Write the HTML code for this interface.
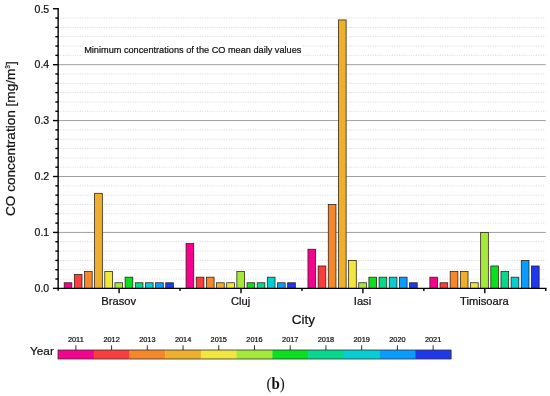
<!DOCTYPE html><html><head><meta charset="utf-8"><title>CO concentration</title>
<style>html,body{margin:0;padding:0;background:#fff}svg{display:block}text{font-family:"Liberation Sans",sans-serif;fill:#111;stroke:#111;stroke-width:0.22px}</style></head><body>
<svg width="550" height="396" viewBox="0 0 550 396">
<rect width="550" height="396" fill="#fff"/>
<line x1="58.15" x2="545.75" y1="279.03" y2="279.03" stroke="#dcdcdc" stroke-width="1" stroke-dasharray="1.2 1.2"/>
<line x1="58.15" x2="545.75" y1="269.71" y2="269.71" stroke="#dcdcdc" stroke-width="1" stroke-dasharray="1.2 1.2"/>
<line x1="58.15" x2="545.75" y1="260.39" y2="260.39" stroke="#dcdcdc" stroke-width="1" stroke-dasharray="1.2 1.2"/>
<line x1="58.15" x2="545.75" y1="251.07" y2="251.07" stroke="#dcdcdc" stroke-width="1" stroke-dasharray="1.2 1.2"/>
<line x1="58.15" x2="545.75" y1="241.75" y2="241.75" stroke="#dcdcdc" stroke-width="1" stroke-dasharray="1.2 1.2"/>
<line x1="58.15" x2="545.75" y1="232.43" y2="232.43" stroke="#949494" stroke-width="0.9"/>
<line x1="58.15" x2="545.75" y1="223.11" y2="223.11" stroke="#dcdcdc" stroke-width="1" stroke-dasharray="1.2 1.2"/>
<line x1="58.15" x2="545.75" y1="213.79" y2="213.79" stroke="#dcdcdc" stroke-width="1" stroke-dasharray="1.2 1.2"/>
<line x1="58.15" x2="545.75" y1="204.47" y2="204.47" stroke="#dcdcdc" stroke-width="1" stroke-dasharray="1.2 1.2"/>
<line x1="58.15" x2="545.75" y1="195.15" y2="195.15" stroke="#dcdcdc" stroke-width="1" stroke-dasharray="1.2 1.2"/>
<line x1="58.15" x2="545.75" y1="185.83" y2="185.83" stroke="#dcdcdc" stroke-width="1" stroke-dasharray="1.2 1.2"/>
<line x1="58.15" x2="545.75" y1="176.51" y2="176.51" stroke="#949494" stroke-width="0.9"/>
<line x1="58.15" x2="545.75" y1="167.19" y2="167.19" stroke="#dcdcdc" stroke-width="1" stroke-dasharray="1.2 1.2"/>
<line x1="58.15" x2="545.75" y1="157.87" y2="157.87" stroke="#dcdcdc" stroke-width="1" stroke-dasharray="1.2 1.2"/>
<line x1="58.15" x2="545.75" y1="148.55" y2="148.55" stroke="#dcdcdc" stroke-width="1" stroke-dasharray="1.2 1.2"/>
<line x1="58.15" x2="545.75" y1="139.23" y2="139.23" stroke="#dcdcdc" stroke-width="1" stroke-dasharray="1.2 1.2"/>
<line x1="58.15" x2="545.75" y1="129.91" y2="129.91" stroke="#dcdcdc" stroke-width="1" stroke-dasharray="1.2 1.2"/>
<line x1="58.15" x2="545.75" y1="120.59" y2="120.59" stroke="#949494" stroke-width="0.9"/>
<line x1="58.15" x2="545.75" y1="111.27" y2="111.27" stroke="#dcdcdc" stroke-width="1" stroke-dasharray="1.2 1.2"/>
<line x1="58.15" x2="545.75" y1="101.95" y2="101.95" stroke="#dcdcdc" stroke-width="1" stroke-dasharray="1.2 1.2"/>
<line x1="58.15" x2="545.75" y1="92.63" y2="92.63" stroke="#dcdcdc" stroke-width="1" stroke-dasharray="1.2 1.2"/>
<line x1="58.15" x2="545.75" y1="83.31" y2="83.31" stroke="#dcdcdc" stroke-width="1" stroke-dasharray="1.2 1.2"/>
<line x1="58.15" x2="545.75" y1="73.99" y2="73.99" stroke="#dcdcdc" stroke-width="1" stroke-dasharray="1.2 1.2"/>
<line x1="58.15" x2="545.75" y1="64.67" y2="64.67" stroke="#949494" stroke-width="0.9"/>
<line x1="58.15" x2="545.75" y1="55.35" y2="55.35" stroke="#dcdcdc" stroke-width="1" stroke-dasharray="1.2 1.2"/>
<line x1="58.15" x2="545.75" y1="46.03" y2="46.03" stroke="#dcdcdc" stroke-width="1" stroke-dasharray="1.2 1.2"/>
<line x1="58.15" x2="545.75" y1="36.71" y2="36.71" stroke="#dcdcdc" stroke-width="1" stroke-dasharray="1.2 1.2"/>
<line x1="58.15" x2="545.75" y1="27.39" y2="27.39" stroke="#dcdcdc" stroke-width="1" stroke-dasharray="1.2 1.2"/>
<line x1="58.15" x2="545.75" y1="18.07" y2="18.07" stroke="#dcdcdc" stroke-width="1" stroke-dasharray="1.2 1.2"/>
<rect x="83.5" y="40" width="219.5" height="19" fill="#fff"/>
<rect x="64.16" y="282.76" width="7.7" height="5.59" fill="#f4048e" stroke="#2b1d0e" stroke-width="0.75"/>
<rect x="74.32" y="274.37" width="7.7" height="13.98" fill="#fa3e3e" stroke="#2b1d0e" stroke-width="0.75"/>
<rect x="84.48" y="271.57" width="7.7" height="16.78" fill="#f5882a" stroke="#2b1d0e" stroke-width="0.75"/>
<rect x="94.63" y="193.29" width="7.7" height="95.06" fill="#eeb02c" stroke="#2b1d0e" stroke-width="0.75"/>
<rect x="104.79" y="271.57" width="7.7" height="16.78" fill="#f0e63e" stroke="#2b1d0e" stroke-width="0.75"/>
<rect x="114.95" y="282.76" width="7.7" height="5.59" fill="#a4e83a" stroke="#2b1d0e" stroke-width="0.75"/>
<rect x="125.11" y="277.17" width="7.7" height="11.18" fill="#08e020" stroke="#2b1d0e" stroke-width="0.75"/>
<rect x="135.27" y="282.76" width="7.7" height="5.59" fill="#06d88e" stroke="#2b1d0e" stroke-width="0.75"/>
<rect x="145.42" y="282.76" width="7.7" height="5.59" fill="#06ced2" stroke="#2b1d0e" stroke-width="0.75"/>
<rect x="155.58" y="282.76" width="7.7" height="5.59" fill="#0a9cfc" stroke="#2b1d0e" stroke-width="0.75"/>
<rect x="165.74" y="282.76" width="7.7" height="5.59" fill="#2038ec" stroke="#2b1d0e" stroke-width="0.75"/>
<rect x="186.06" y="243.61" width="7.7" height="44.74" fill="#f4048e" stroke="#2b1d0e" stroke-width="0.75"/>
<rect x="196.22" y="277.17" width="7.7" height="11.18" fill="#fa3e3e" stroke="#2b1d0e" stroke-width="0.75"/>
<rect x="206.38" y="277.17" width="7.7" height="11.18" fill="#f5882a" stroke="#2b1d0e" stroke-width="0.75"/>
<rect x="216.53" y="282.76" width="7.7" height="5.59" fill="#eeb02c" stroke="#2b1d0e" stroke-width="0.75"/>
<rect x="226.69" y="282.76" width="7.7" height="5.59" fill="#f0e63e" stroke="#2b1d0e" stroke-width="0.75"/>
<rect x="236.85" y="271.57" width="7.7" height="16.78" fill="#a4e83a" stroke="#2b1d0e" stroke-width="0.75"/>
<rect x="247.01" y="282.76" width="7.7" height="5.59" fill="#08e020" stroke="#2b1d0e" stroke-width="0.75"/>
<rect x="257.17" y="282.76" width="7.7" height="5.59" fill="#06d88e" stroke="#2b1d0e" stroke-width="0.75"/>
<rect x="267.32" y="277.17" width="7.7" height="11.18" fill="#06ced2" stroke="#2b1d0e" stroke-width="0.75"/>
<rect x="277.48" y="282.76" width="7.7" height="5.59" fill="#0a9cfc" stroke="#2b1d0e" stroke-width="0.75"/>
<rect x="287.64" y="282.76" width="7.7" height="5.59" fill="#2038ec" stroke="#2b1d0e" stroke-width="0.75"/>
<rect x="307.96" y="249.21" width="7.7" height="39.14" fill="#f4048e" stroke="#2b1d0e" stroke-width="0.75"/>
<rect x="318.12" y="265.98" width="7.7" height="22.37" fill="#fa3e3e" stroke="#2b1d0e" stroke-width="0.75"/>
<rect x="328.27" y="204.47" width="7.7" height="83.88" fill="#f5882a" stroke="#2b1d0e" stroke-width="0.75"/>
<rect x="338.43" y="19.93" width="7.7" height="268.42" fill="#eeb02c" stroke="#2b1d0e" stroke-width="0.75"/>
<rect x="348.59" y="260.39" width="7.7" height="27.96" fill="#f0e63e" stroke="#2b1d0e" stroke-width="0.75"/>
<rect x="358.75" y="282.76" width="7.7" height="5.59" fill="#a4e83a" stroke="#2b1d0e" stroke-width="0.75"/>
<rect x="368.91" y="277.17" width="7.7" height="11.18" fill="#08e020" stroke="#2b1d0e" stroke-width="0.75"/>
<rect x="379.07" y="277.17" width="7.7" height="11.18" fill="#06d88e" stroke="#2b1d0e" stroke-width="0.75"/>
<rect x="389.22" y="277.17" width="7.7" height="11.18" fill="#06ced2" stroke="#2b1d0e" stroke-width="0.75"/>
<rect x="399.38" y="277.17" width="7.7" height="11.18" fill="#0a9cfc" stroke="#2b1d0e" stroke-width="0.75"/>
<rect x="409.54" y="282.76" width="7.7" height="5.59" fill="#2038ec" stroke="#2b1d0e" stroke-width="0.75"/>
<rect x="429.86" y="277.17" width="7.7" height="11.18" fill="#f4048e" stroke="#2b1d0e" stroke-width="0.75"/>
<rect x="440.02" y="282.76" width="7.7" height="5.59" fill="#fa3e3e" stroke="#2b1d0e" stroke-width="0.75"/>
<rect x="450.17" y="271.57" width="7.7" height="16.78" fill="#f5882a" stroke="#2b1d0e" stroke-width="0.75"/>
<rect x="460.33" y="271.57" width="7.7" height="16.78" fill="#eeb02c" stroke="#2b1d0e" stroke-width="0.75"/>
<rect x="470.49" y="282.76" width="7.7" height="5.59" fill="#f0e63e" stroke="#2b1d0e" stroke-width="0.75"/>
<rect x="480.65" y="232.43" width="7.7" height="55.92" fill="#a4e83a" stroke="#2b1d0e" stroke-width="0.75"/>
<rect x="490.81" y="265.98" width="7.7" height="22.37" fill="#08e020" stroke="#2b1d0e" stroke-width="0.75"/>
<rect x="500.97" y="271.57" width="7.7" height="16.78" fill="#06d88e" stroke="#2b1d0e" stroke-width="0.75"/>
<rect x="511.12" y="277.17" width="7.7" height="11.18" fill="#06ced2" stroke="#2b1d0e" stroke-width="0.75"/>
<rect x="521.28" y="260.39" width="7.7" height="27.96" fill="#0a9cfc" stroke="#2b1d0e" stroke-width="0.75"/>
<rect x="531.44" y="265.98" width="7.7" height="22.37" fill="#2038ec" stroke="#2b1d0e" stroke-width="0.75"/>
<line x1="58.15" x2="58.15" y1="8.05" y2="289.05" stroke="#000" stroke-width="1.4"/>
<line x1="57.449999999999996" x2="546.45" y1="288.35" y2="288.35" stroke="#000" stroke-width="1.4"/>
<line x1="52.949999999999996" x2="58.15" y1="288.35" y2="288.35" stroke="#000" stroke-width="1.4"/>
<text x="49.2" y="292.15" font-size="10.5" text-anchor="end">0.0</text>
<line x1="55.35" x2="58.15" y1="279.03" y2="279.03" stroke="#000" stroke-width="1.4"/>
<line x1="55.35" x2="58.15" y1="269.71" y2="269.71" stroke="#000" stroke-width="1.4"/>
<line x1="55.35" x2="58.15" y1="260.39" y2="260.39" stroke="#000" stroke-width="1.4"/>
<line x1="55.35" x2="58.15" y1="251.07" y2="251.07" stroke="#000" stroke-width="1.4"/>
<line x1="55.35" x2="58.15" y1="241.75" y2="241.75" stroke="#000" stroke-width="1.4"/>
<line x1="52.949999999999996" x2="58.15" y1="232.43" y2="232.43" stroke="#000" stroke-width="1.4"/>
<text x="49.2" y="236.23" font-size="10.5" text-anchor="end">0.1</text>
<line x1="55.35" x2="58.15" y1="223.11" y2="223.11" stroke="#000" stroke-width="1.4"/>
<line x1="55.35" x2="58.15" y1="213.79" y2="213.79" stroke="#000" stroke-width="1.4"/>
<line x1="55.35" x2="58.15" y1="204.47" y2="204.47" stroke="#000" stroke-width="1.4"/>
<line x1="55.35" x2="58.15" y1="195.15" y2="195.15" stroke="#000" stroke-width="1.4"/>
<line x1="55.35" x2="58.15" y1="185.83" y2="185.83" stroke="#000" stroke-width="1.4"/>
<line x1="52.949999999999996" x2="58.15" y1="176.51" y2="176.51" stroke="#000" stroke-width="1.4"/>
<text x="49.2" y="180.31" font-size="10.5" text-anchor="end">0.2</text>
<line x1="55.35" x2="58.15" y1="167.19" y2="167.19" stroke="#000" stroke-width="1.4"/>
<line x1="55.35" x2="58.15" y1="157.87" y2="157.87" stroke="#000" stroke-width="1.4"/>
<line x1="55.35" x2="58.15" y1="148.55" y2="148.55" stroke="#000" stroke-width="1.4"/>
<line x1="55.35" x2="58.15" y1="139.23" y2="139.23" stroke="#000" stroke-width="1.4"/>
<line x1="55.35" x2="58.15" y1="129.91" y2="129.91" stroke="#000" stroke-width="1.4"/>
<line x1="52.949999999999996" x2="58.15" y1="120.59" y2="120.59" stroke="#000" stroke-width="1.4"/>
<text x="49.2" y="124.39" font-size="10.5" text-anchor="end">0.3</text>
<line x1="55.35" x2="58.15" y1="111.27" y2="111.27" stroke="#000" stroke-width="1.4"/>
<line x1="55.35" x2="58.15" y1="101.95" y2="101.95" stroke="#000" stroke-width="1.4"/>
<line x1="55.35" x2="58.15" y1="92.63" y2="92.63" stroke="#000" stroke-width="1.4"/>
<line x1="55.35" x2="58.15" y1="83.31" y2="83.31" stroke="#000" stroke-width="1.4"/>
<line x1="55.35" x2="58.15" y1="73.99" y2="73.99" stroke="#000" stroke-width="1.4"/>
<line x1="52.949999999999996" x2="58.15" y1="64.67" y2="64.67" stroke="#000" stroke-width="1.4"/>
<text x="49.2" y="68.47" font-size="10.5" text-anchor="end">0.4</text>
<line x1="55.35" x2="58.15" y1="55.35" y2="55.35" stroke="#000" stroke-width="1.4"/>
<line x1="55.35" x2="58.15" y1="46.03" y2="46.03" stroke="#000" stroke-width="1.4"/>
<line x1="55.35" x2="58.15" y1="36.71" y2="36.71" stroke="#000" stroke-width="1.4"/>
<line x1="55.35" x2="58.15" y1="27.39" y2="27.39" stroke="#000" stroke-width="1.4"/>
<line x1="55.35" x2="58.15" y1="18.07" y2="18.07" stroke="#000" stroke-width="1.4"/>
<line x1="52.949999999999996" x2="58.15" y1="8.75" y2="8.75" stroke="#000" stroke-width="1.4"/>
<text x="49.2" y="12.55" font-size="10.5" text-anchor="end">0.5</text>
<line x1="58.15" x2="58.15" y1="288.35" y2="290.85" stroke="#000" stroke-width="1.4"/>
<line x1="119.10" x2="119.10" y1="288.35" y2="293.35" stroke="#000" stroke-width="1.4"/>
<line x1="180.05" x2="180.05" y1="288.35" y2="291.05" stroke="#000" stroke-width="1.4"/>
<text x="118.70" y="305.3" font-size="11.2" text-anchor="middle">Brasov</text>
<line x1="241.00" x2="241.00" y1="288.35" y2="293.35" stroke="#000" stroke-width="1.4"/>
<line x1="301.95" x2="301.95" y1="288.35" y2="291.05" stroke="#000" stroke-width="1.4"/>
<text x="240.60" y="305.3" font-size="11.2" text-anchor="middle">Cluj</text>
<line x1="362.90" x2="362.90" y1="288.35" y2="293.35" stroke="#000" stroke-width="1.4"/>
<line x1="423.85" x2="423.85" y1="288.35" y2="291.05" stroke="#000" stroke-width="1.4"/>
<text x="362.50" y="305.3" font-size="11.2" text-anchor="middle">Iasi</text>
<line x1="484.80" x2="484.80" y1="288.35" y2="293.35" stroke="#000" stroke-width="1.4"/>
<line x1="545.75" x2="545.75" y1="288.35" y2="291.05" stroke="#000" stroke-width="1.4"/>
<text x="484.40" y="305.3" font-size="11.2" text-anchor="middle">Timisoara</text>
<text x="303.3" y="324.4" font-size="13.5" text-anchor="middle">City</text>
<text transform="translate(15.1,138.6) rotate(-90)" font-size="13.6" text-anchor="middle">CO concentration [mg/m<tspan font-size="6.6" dy="-5.5">3</tspan><tspan dy="5.5">]</tspan></text>
<text x="84.2" y="53" font-size="9.19">Minimum concentrations of the CO mean daily values</text>
<rect x="58.00" y="350" width="36.03" height="9" fill="#f4048e"/>
<rect x="93.73" y="350" width="36.03" height="9" fill="#fa3e3e"/>
<rect x="129.45" y="350" width="36.03" height="9" fill="#f5882a"/>
<rect x="165.18" y="350" width="36.03" height="9" fill="#eeb02c"/>
<rect x="200.91" y="350" width="36.03" height="9" fill="#f0e63e"/>
<rect x="236.64" y="350" width="36.03" height="9" fill="#a4e83a"/>
<rect x="272.36" y="350" width="36.03" height="9" fill="#08e020"/>
<rect x="308.09" y="350" width="36.03" height="9" fill="#06d88e"/>
<rect x="343.82" y="350" width="36.03" height="9" fill="#06ced2"/>
<rect x="379.55" y="350" width="36.03" height="9" fill="#0a9cfc"/>
<rect x="415.27" y="350" width="36.03" height="9" fill="#2038ec"/>
<rect x="58" y="350" width="393" height="9" fill="none" stroke="#333" stroke-width="0.8"/>
<line x1="75.86" x2="75.86" y1="345.3" y2="350" stroke="#000" stroke-width="0.8"/>
<text x="75.86" y="342.3" font-size="7.35" text-anchor="middle">2011</text>
<line x1="111.59" x2="111.59" y1="345.3" y2="350" stroke="#000" stroke-width="0.8"/>
<text x="111.59" y="342.3" font-size="7.35" text-anchor="middle">2012</text>
<line x1="147.32" x2="147.32" y1="345.3" y2="350" stroke="#000" stroke-width="0.8"/>
<text x="147.32" y="342.3" font-size="7.35" text-anchor="middle">2013</text>
<line x1="183.05" x2="183.05" y1="345.3" y2="350" stroke="#000" stroke-width="0.8"/>
<text x="183.05" y="342.3" font-size="7.35" text-anchor="middle">2014</text>
<line x1="218.77" x2="218.77" y1="345.3" y2="350" stroke="#000" stroke-width="0.8"/>
<text x="218.77" y="342.3" font-size="7.35" text-anchor="middle">2015</text>
<line x1="254.50" x2="254.50" y1="345.3" y2="350" stroke="#000" stroke-width="0.8"/>
<text x="254.50" y="342.3" font-size="7.35" text-anchor="middle">2016</text>
<line x1="290.23" x2="290.23" y1="345.3" y2="350" stroke="#000" stroke-width="0.8"/>
<text x="290.23" y="342.3" font-size="7.35" text-anchor="middle">2017</text>
<line x1="325.95" x2="325.95" y1="345.3" y2="350" stroke="#000" stroke-width="0.8"/>
<text x="325.95" y="342.3" font-size="7.35" text-anchor="middle">2018</text>
<line x1="361.68" x2="361.68" y1="345.3" y2="350" stroke="#000" stroke-width="0.8"/>
<text x="361.68" y="342.3" font-size="7.35" text-anchor="middle">2019</text>
<line x1="397.41" x2="397.41" y1="345.3" y2="350" stroke="#000" stroke-width="0.8"/>
<text x="397.41" y="342.3" font-size="7.35" text-anchor="middle">2020</text>
<line x1="433.14" x2="433.14" y1="345.3" y2="350" stroke="#000" stroke-width="0.8"/>
<text x="433.14" y="342.3" font-size="7.35" text-anchor="middle">2021</text>
<text x="30" y="355.3" font-size="11.8">Year</text>
<text transform="translate(275.6,388.5) scale(1,1.06)" font-size="15" text-anchor="middle" style="font-family:'Liberation Serif',serif;stroke:none"><tspan>(</tspan><tspan font-weight="bold">b</tspan><tspan>)</tspan></text>
</svg></body></html>
